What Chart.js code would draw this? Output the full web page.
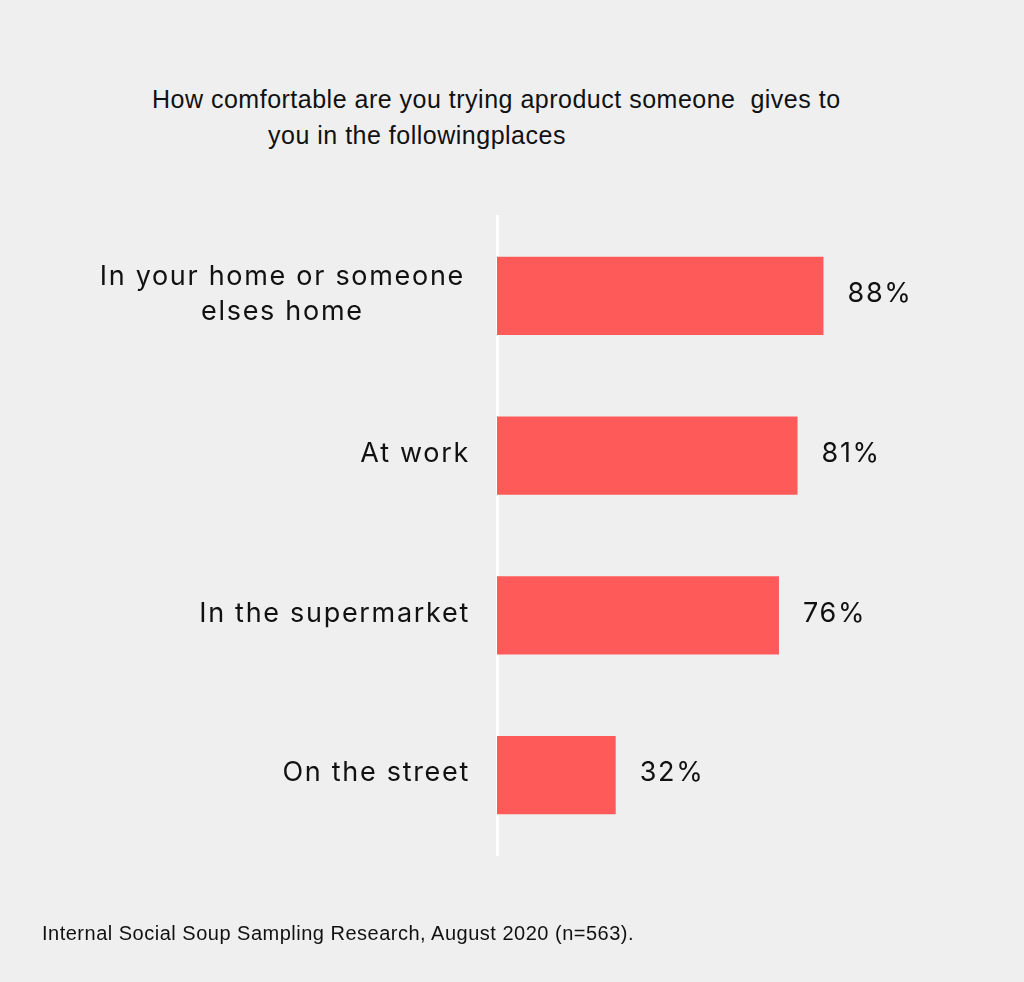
<!DOCTYPE html>
<html>
<head>
<meta charset="utf-8">
<script src="https://cdn.jsdelivr.net/npm/chart.js@4"></script>
<style>
  body { margin: 0; background: #efefef; }
  #wrap { position: relative; width: 1024px; height: 982px; }
  #grafico { position: absolute; left: 0; top: 0; }
  .titulo { position: absolute; font-family: "Liberation Sans", sans-serif; font-size: 25px; letter-spacing: 0.5px; color: #111; white-space: pre; }
  .nota { position: absolute; left: 42px; top: 922px; font-family: "Liberation Sans", sans-serif; font-size: 20px; letter-spacing: 0.5px; color: #111; white-space: pre; }
</style>
</head>
<body>
<div id="wrap">
  <div class="titulo" style="left:152px; top:85px;">How comfortable are you trying aproduct someone  gives to</div>
  <div class="titulo" style="left:268px; top:121px;">you in the followingplaces</div>
  <canvas id="grafico" width="1024" height="982"></canvas>
  <div class="nota">Internal Social Soup Sampling Research, August 2020 (n=563).</div>
</div>
<script>
const lugares = [['In your home or someone', 'elses home'], 'At work', 'In the supermarket', 'On the street'];
const porcentajes = [88, 81, 76, 32];
const escalaMax = 100;

const fuenteEtiquetas = '27px Inter, "Open Sans", sans-serif';

// etiquetas de categoria alineadas a la derecha, multilinea centrada
const etiquetasPlugin = {
  id: 'etiquetas',
  afterDraw(chart) {
    const ctx = chart.ctx;
    const y = chart.scales.y;
    const x = chart.scales.x;
    ctx.save();
    ctx.font = fuenteEtiquetas;
    ctx.letterSpacing = '1.7px';
    ctx.fillStyle = '#111';
    ctx.textBaseline = 'middle';
    lugares.forEach((lab, i) => {
      const lineas = Array.isArray(lab) ? lab : [lab];
      const yc = y.getPixelForValue(i) - 2;
      const anchos = lineas.map(l => ctx.measureText(l).width);
      const maxAncho = Math.max(...anchos);
      const derecha = lineas.length > 1 ? 465 : 470;
      const cx = derecha - maxAncho / 2;
      ctx.textAlign = 'center';
      const alto = 35;
      lineas.forEach((l, j) => {
        ctx.fillText(l, cx, yc + (j - (lineas.length - 1) / 2) * alto);
      });
    });
    // valores
    ctx.textAlign = 'left';
    porcentajes.forEach((v, i) => {
      ctx.fillText(v + '%', x.getPixelForValue(v) + 24, y.getPixelForValue(i) - 2);
    });
    ctx.restore();
  }
};

const ctx = document.getElementById('grafico').getContext('2d');
window.grafico = new Chart(ctx, {
  type: 'bar',
  data: {
    labels: lugares,
    datasets: [{
      data: porcentajes,
      backgroundColor: '#ff5a5a',
      barPercentage: 0.49,
      categoryPercentage: 1
    }]
  },
  options: {
    indexAxis: 'y',
    responsive: false,
    animation: false,
    layout: { padding: { left: 497, right: 156, top: 216, bottom: 127 } },
    plugins: { legend: { display: false }, tooltip: { enabled: false } },
    scales: {
      x: { min: 0, max: escalaMax, display: false },
      y: {
        grid: { display: false },
        ticks: { display: false },
        border: { display: true, color: '#ffffff', width: 3 },
        afterFit: s => { s.width = 0; }
      }
    }
  },
  plugins: [etiquetasPlugin]
});
</script>
</body>
</html>
